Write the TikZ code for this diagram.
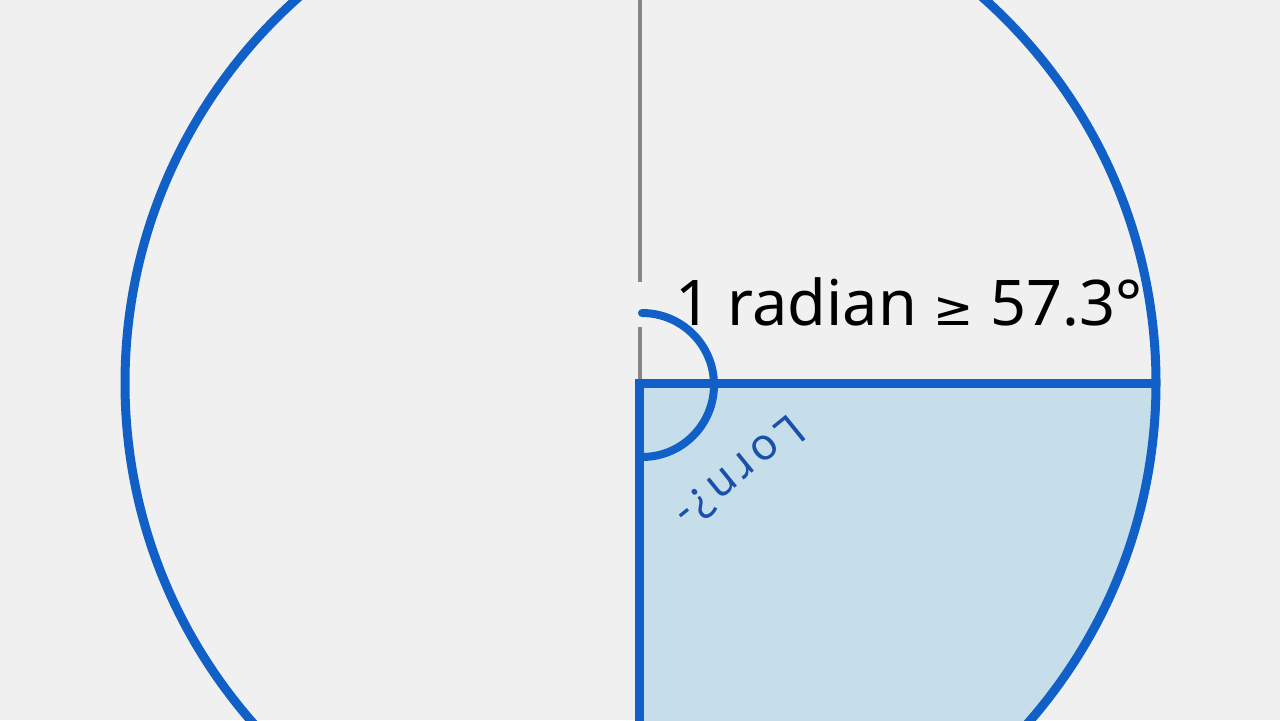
\documentclass[tikz,border=0pt]{standalone}
\usepackage{fontspec}
\setmainfont{Noto Sans}
\newfontfamily\symfont{DejaVu Sans}
\definecolor{bg}{RGB}{240,240,240}
\definecolor{cblue}{RGB}{16,96,200}
\definecolor{qfill}{RGB}{197,222,234}
\definecolor{tblue}{RGB}{26,80,170}
\definecolor{gline}{RGB}{135,135,135}
\tikzset{
  blueline/.style={draw=cblue,line width=4.5pt},
  grayline/.style={draw=gline,line width=2pt},
  lbl/.style={inner sep=0pt,text=black,font=\fontsize{31.5}{36}\selectfont},
  rlbl/.style={inner sep=0pt,text=tblue,font=\fontsize{22}{26}\selectfont}
}
\begin{document}
\begin{tikzpicture}[x=0.5pt,y=-0.5pt]
\fill[bg] (0,0) rectangle (1280,720);
\useasboundingbox (0,0) rectangle (1280,720);
\clip (0,0) rectangle (1280,720);
\coordinate (O) at (640.5,383);
\coordinate (R) at (1156,383);
\coordinate (V) at (639,383);
\coordinate (Vb) at (639,730);
\coordinate (gtop) at (640,-10);
\coordinate (g1) at (640,282);
\coordinate (g2) at (640,327);
\coordinate (g3) at (640,383);
\coordinate (as) at (642,313);
% shaded quadrant
\begin{scope}
  \clip (O) circle[radius=257.75pt];
  \fill[qfill] (639,383) rectangle (1300,740);
\end{scope}
% gray vertical line
\draw[grayline] (gtop) -- (g1);
\draw[grayline] (g2) -- (g3);
% circle
\draw[blueline] (O) circle[radius=257.75pt];
% radii
\draw[blueline,line join=miter] (R) -- (V) -- (Vb);
% small angle arc
\draw[blueline,line width=4pt,line cap=round] (as) arc[start angle=90,end angle=-90,radius=36pt];
% labels
\node[lbl,anchor=base west] (t1) at (675,325) {1 radian {\symfont\fontsize{24}{28}\selectfont ≥} 57.3°};
\node[rlbl,rotate=219] (t2) at (740,473) {L\hspace{2.5pt}o\hspace{2.5pt}r\hspace{2.5pt}n\hspace{2.5pt}?\hspace{2pt}-};
\end{tikzpicture}
\end{document}
